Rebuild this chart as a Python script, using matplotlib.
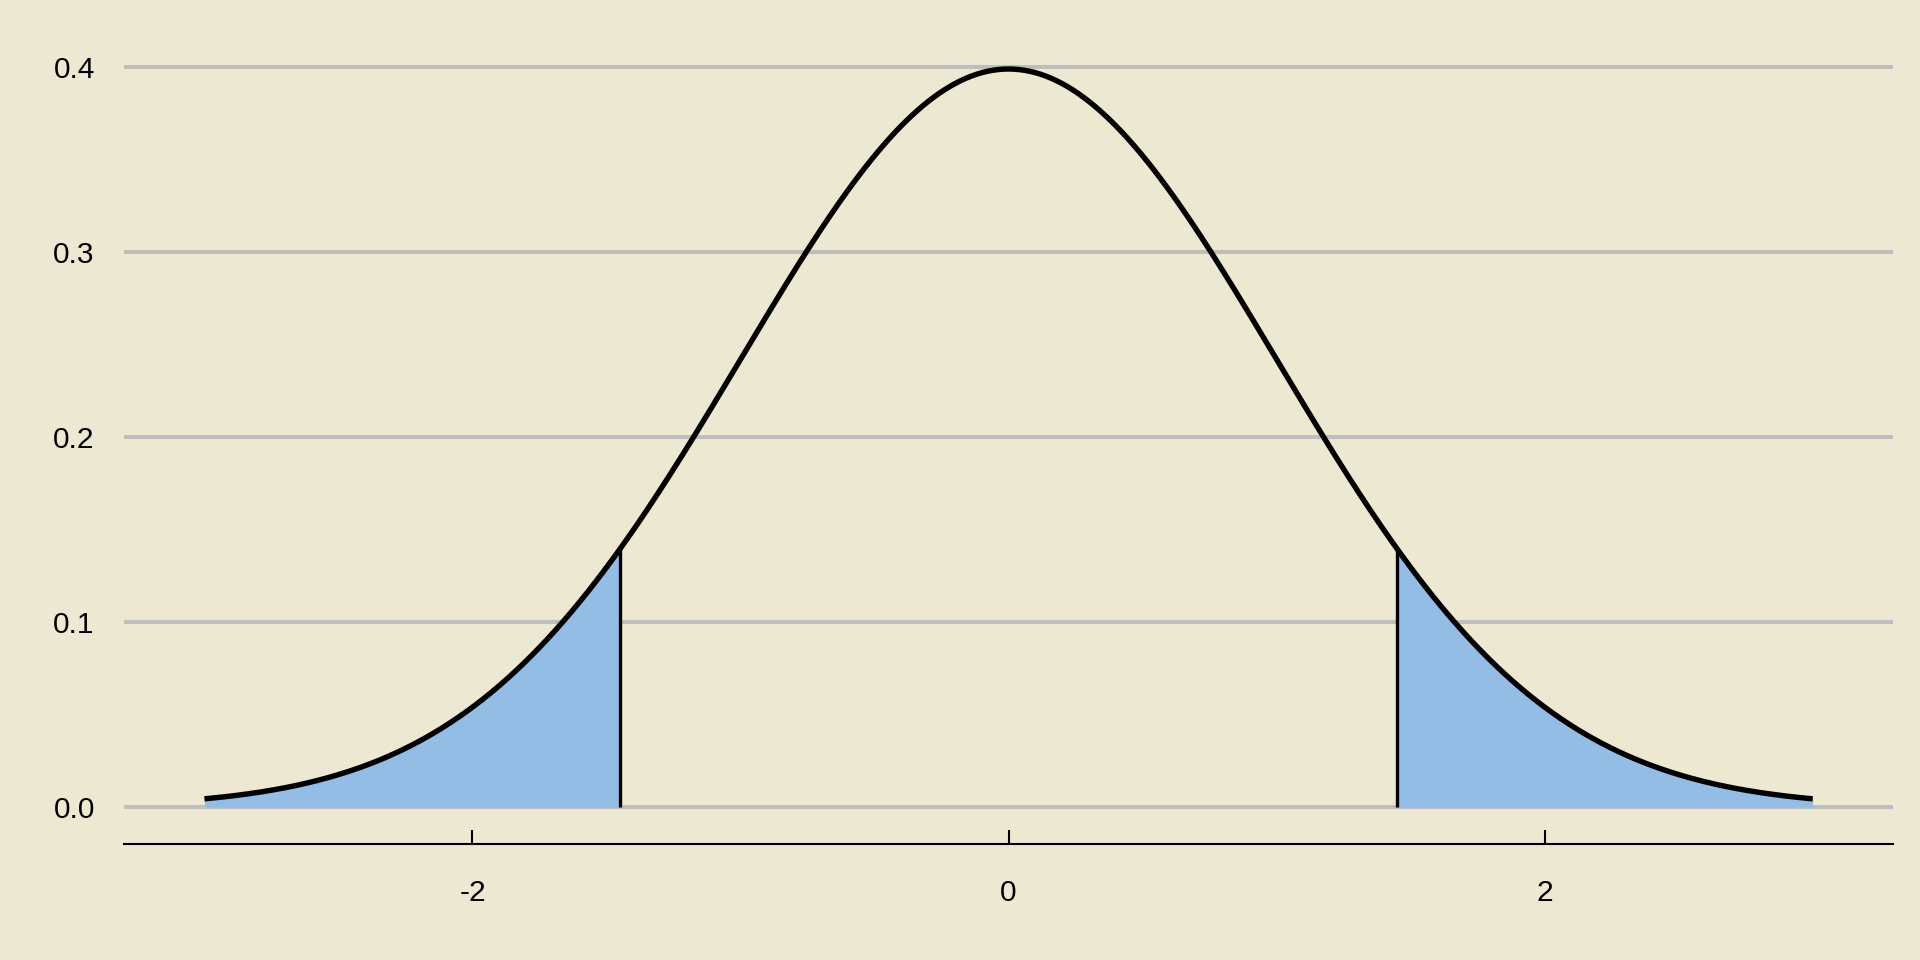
import numpy as np
from matplotlib import pyplot as plt

# standard normal density, two-sided tails shaded
mean = 0.0
sd = 1.0
x_start, x_end = -3.0, 3.0
cutoff = 1.45
x_ticks = [-2, 0, 2]
y_ticks = [0.0, 0.1, 0.2, 0.3, 0.4]
y_tick_labels = ['0.0', '0.1', '0.2', '0.3', '0.4']

bg = '#ece8d1'
fill_color = '#94bde6'
grid_color = '#bebebe'

plt.rcParams['font.family'] = ['Liberation Sans', 'DejaVu Sans']


def density(x):
    return np.exp(-0.5 * ((x - mean) / sd) ** 2) / (sd * np.sqrt(2 * np.pi))


x = np.linspace(x_start, x_end, 601)
y = density(x)

fig = plt.figure(figsize=(19.2, 9.6), dpi=100, facecolor=bg)
ax = fig.add_axes([0.0646, 0.1208, 0.9214, 0.8479])
ax.set_facecolor(bg)

for yt in y_ticks:
    ax.axhline(yt, color=grid_color, lw=2.9, zorder=0)

left = x <= -cutoff
right = x >= cutoff
xl = np.append(x[left], -cutoff)
xr = np.insert(x[right], 0, cutoff)
ax.fill_between(xl, density(xl), 0, color=fill_color, lw=0, zorder=1)
ax.fill_between(xr, density(xr), 0, color=fill_color, lw=0, zorder=1)
ax.vlines([-cutoff, cutoff], 0, density(np.array([-cutoff, cutoff])),
          color='black', lw=2.4, zorder=2)

ax.plot(x, y, color='black', lw=3.9, solid_capstyle='butt', zorder=3)

ax.set_xlim(-3.3, 3.3)
ax.set_ylim(-0.02, 0.42)
ax.set_xticks(x_ticks)
ax.set_xticklabels([str(t) for t in x_ticks])
ax.set_yticks(y_ticks)
ax.set_yticklabels(y_tick_labels)

for s in ['top', 'right', 'left']:
    ax.spines[s].set_visible(False)
ax.spines['bottom'].set_linewidth(1.5)
ax.tick_params(axis='x', length=10, width=1.5, direction='in', labelsize=21.5, pad=25)
ax.tick_params(axis='y', length=0, labelsize=21.5, pad=21)

fig.savefig('out.png', dpi=100, facecolor=bg)
